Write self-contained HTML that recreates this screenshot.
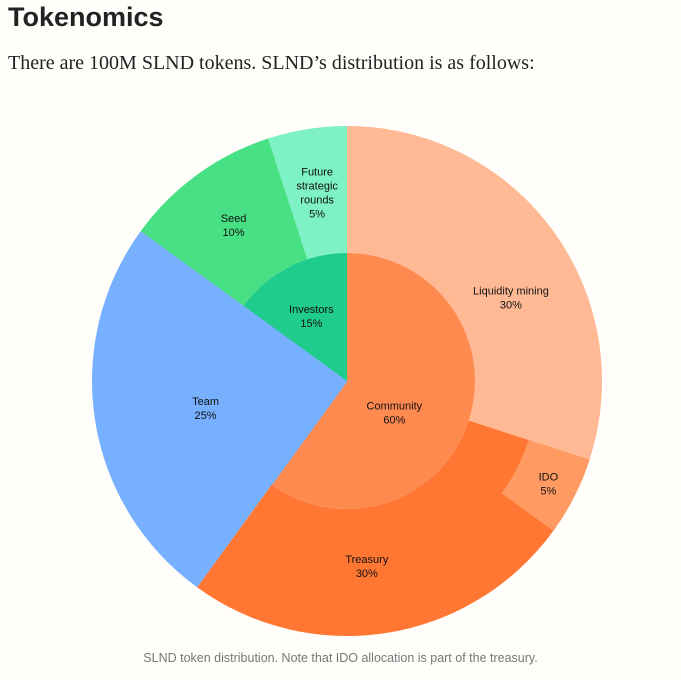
<!DOCTYPE html>
<html><head><meta charset="utf-8"><style>
body{margin:0;width:681px;height:680px;background:#fffefb;overflow:hidden;font-family:"Liberation Sans",sans-serif}
h1{position:absolute;left:8px;top:2px;margin:0;font-size:27px;font-weight:bold;color:#222}
p.sub{position:absolute;left:8px;top:52px;margin:0;font-family:"Liberation Serif",serif;font-size:20px;color:#222}
p.cap{position:absolute;left:0;width:681px;text-align:center;top:651px;margin:0;font-size:12.5px;color:#777}
svg{position:absolute;left:0;top:0}
svg text{font-family:"Liberation Sans",sans-serif;font-size:11px;fill:#111;text-anchor:middle}
</style></head><body>
<h1>Tokenomics</h1>
<p class="sub">There are 100M SLND tokens. SLND’s distribution is as follows:</p>
<svg id="chart" width="681" height="680"></svg>
<p class="cap">SLND token distribution. Note that IDO allocation is part of the treasury.</p>
<script>
const innerNames=["Community","Team","Investors"];
const innerValues=[60,25,15];
const outerNames=["Liquidity mining","Treasury","Team","Seed","Future strategic rounds"];
const outerValues=[30,30,25,10,5];
const idoValue=5;
const outerLabels=["Liquidity mining|30%","Treasury|30%","Team|25%","Seed|10%","Future|strategic|rounds|5%"];
const innerLabels=["Community|60%","","Investors|15%"];
const idoLabel="IDO|5%";
const outerColors=["#ffb995","#ff7733","#76b0ff","#48e084","#7ef2c4"];
const innerColors=["#ff8a50","#76b0ff","#20cc8c"];
const cx=347,cy=381,R=255,R1=128,R2=191;
const svg=document.getElementById('chart');
const NS="http://www.w3.org/2000/svg";
function pt(r,a){const t=a/100*2*Math.PI;return [cx+r*Math.sin(t),cy-r*Math.cos(t)];}
function arc(r0,r1,a0,a1){const L=(a1-a0)>50?1:0;const p1=pt(r1,a0),p2=pt(r1,a1);
 let d=`M${p1[0]},${p1[1]}A${r1},${r1} 0 ${L} 1 ${p2[0]},${p2[1]}`;
 if(r0>0){const p3=pt(r0,a1),p4=pt(r0,a0);d+=`L${p3[0]},${p3[1]}A${r0},${r0} 0 ${L} 0 ${p4[0]},${p4[1]}Z`;}else d+=`L${cx},${cy}Z`;return d;}
function path(d,fill,name,stroke){const e=document.createElementNS(NS,'path');e.setAttribute('d',d);e.setAttribute('fill',fill);
if(stroke){e.setAttribute('stroke',fill);e.setAttribute('stroke-width','1');}


svg.appendChild(e);}
function label(str,r,a,name){const [x,y]=pt(r,a);const lines=str.split('|');const t=document.createElementNS(NS,'text');


lines.forEach((s,i)=>{const ts=document.createElementNS(NS,'tspan');ts.setAttribute('x',x);ts.setAttribute('y',y+(i-(lines.length-1)/2)*14+4);ts.textContent=s;t.appendChild(ts);});svg.appendChild(t);}
let a=0;
outerValues.forEach((v,i)=>{path(arc(R1,R,a,a+v),outerColors[i],'outer-slice-'+i);a+=v;});
let tStart=outerValues[0];
path(arc(R2,R,tStart,tStart+idoValue),"#ff9a62",'ido-slice');
a=0;
innerValues.forEach((v,i)=>{path(arc(0,R1,a,a+v),innerColors[i],'inner-slice-'+i,i==1);a+=v;});
a=0;
outerValues.forEach((v,i)=>{
 if(i==0)label(outerLabels[i],184,a+v/2+2.5,'label-liquidity');
 else if(i==1)label(outerLabels[i],186,a+v/2+3.3,'label-treasury');
 else if(i==2)label(outerLabels[i],144,a+v/2-0.5,'label-team');
 else label(outerLabels[i],i==4?191:193,a+v/2,'label-'+i);
 a+=v;});
label(idoLabel,226,tStart+idoValue/2,'label-ido');
a=0;
innerValues.forEach((v,i)=>{if(innerLabels[i])label(innerLabels[i],i==0?57:74,i==0?a+v/2+4.4:a+v/2-0.5,'inner-label-'+i);a+=v;});
</script>
</body></html>
